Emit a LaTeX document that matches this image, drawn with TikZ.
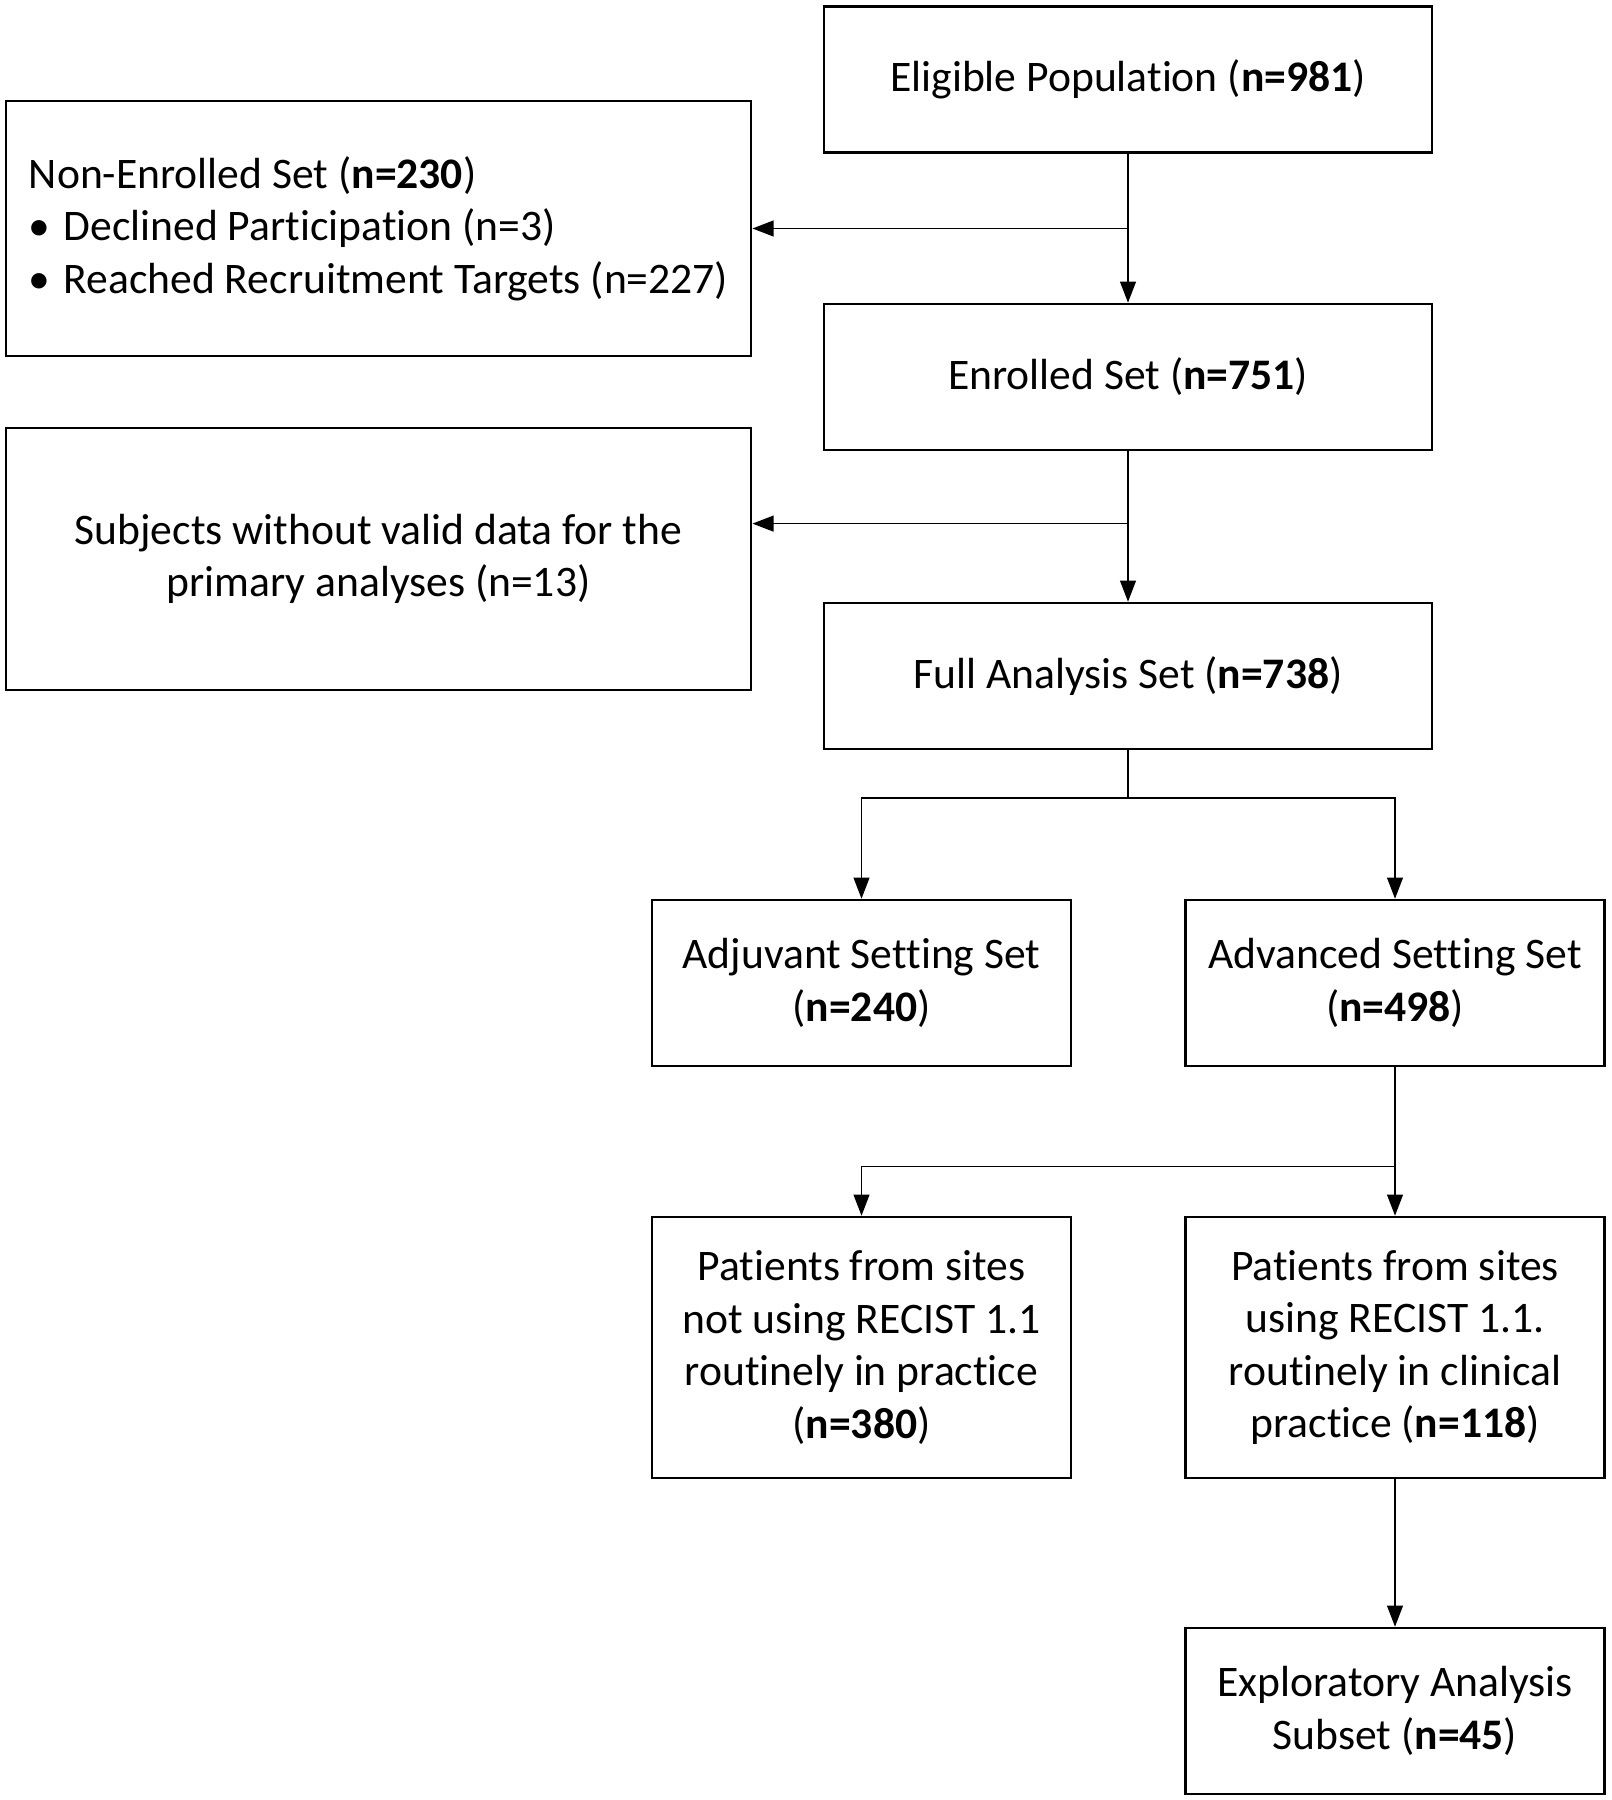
\documentclass[tikz,border=0pt]{standalone}
\usepackage{fontspec}
\setmainfont{Carlito}[Ligatures={NoCommon,NoRequired,NoContextual}]
\usetikzlibrary{arrows.meta}

\begin{document}
\begin{tikzpicture}[x=0.01cm,y=-0.01cm,
  font=\fontsize{12.4}{14.9}\selectfont,
  box/.style={draw,shape=rectangle,line width=0.7pt,align=center,inner sep=0pt},
  wide/.style={box,minimum width=6.08cm,minimum height=1.46cm},
  side/.style={box,minimum width=7.45cm},
  small/.style={box,minimum width=4.19cm},
  link/.style={line width=0.45pt,-{Triangle[width=4.5pt,length=6pt]}}]
   \useasboundingbox (0,0) rectangle (1611,1800);

   % main column
   \path (1128,79.5) node[wide] (E) {Eligible Population (\textbf{n=981})};
   \path (1128,377) node[wide] (En) {Enrolled Set (\textbf{n=751})};
   \path (1128,676) node[wide] (F) {Full Analysis Set (\textbf{n=738})};

   % excluded on the left
   \path (378.5,228.5) node[side,minimum height=2.55cm,align=left] (N)
   {Non-Enrolled Set (\textbf{n=230})\\
    \textbullet\hspace{0.3em}Declined Participation (n=3)\\
    \textbullet\hspace{0.3em}Reached Recruitment Targets (n=227)};
   \path (378.5,559) node[side,minimum height=2.62cm] (S)
   {Subjects without valid data for the\\primary analyses (n=13)};

   % settings
   \path (861.5,983) node[small,minimum height=1.66cm] (A)
   {Adjuvant Setting Set\\(\textbf{n=240})};
   \path (1395,983) node[small,minimum height=1.66cm] (V)
   {Advanced Setting Set\\(\textbf{n=498})};

   % RECIST split
   \path (861.5,1347.5) node[small,minimum height=2.61cm] (NR)
   {Patients from sites\\not using RECIST 1.1\\routinely in practice\\(\textbf{n=380})};
   \path (1395,1347.5) node[small,minimum height=2.61cm] (R)
   {Patients from sites\\using RECIST 1.1.\\routinely in clinical\\practice (\textbf{n=118})};
   \path (1395,1711) node[small,minimum height=1.66cm] (X)
   {Exploratory Analysis\\Subset (\textbf{n=45})};

   % connectors
   \coordinate (s1) at (1128,523.6);
   \coordinate (f1) at (1128,798);
   \coordinate (v1) at (1395,1166.6);
   \draw[link] (E) -- (En);
   \draw[link] (E.south |- N.east) -- (N.east);
   \draw[link] (En) -- (F);
   \draw[link] (s1) -- (S.east |- s1);
   \draw[link] (F.south) -- (f1) -| (A.north);
   \draw[link] (f1) -| (V.north);
   \draw[link] (V) -- (R);
   \draw[link] (v1) -| (NR.north);
   \draw[link] (R) -- (X);
\end{tikzpicture}
\end{document}
